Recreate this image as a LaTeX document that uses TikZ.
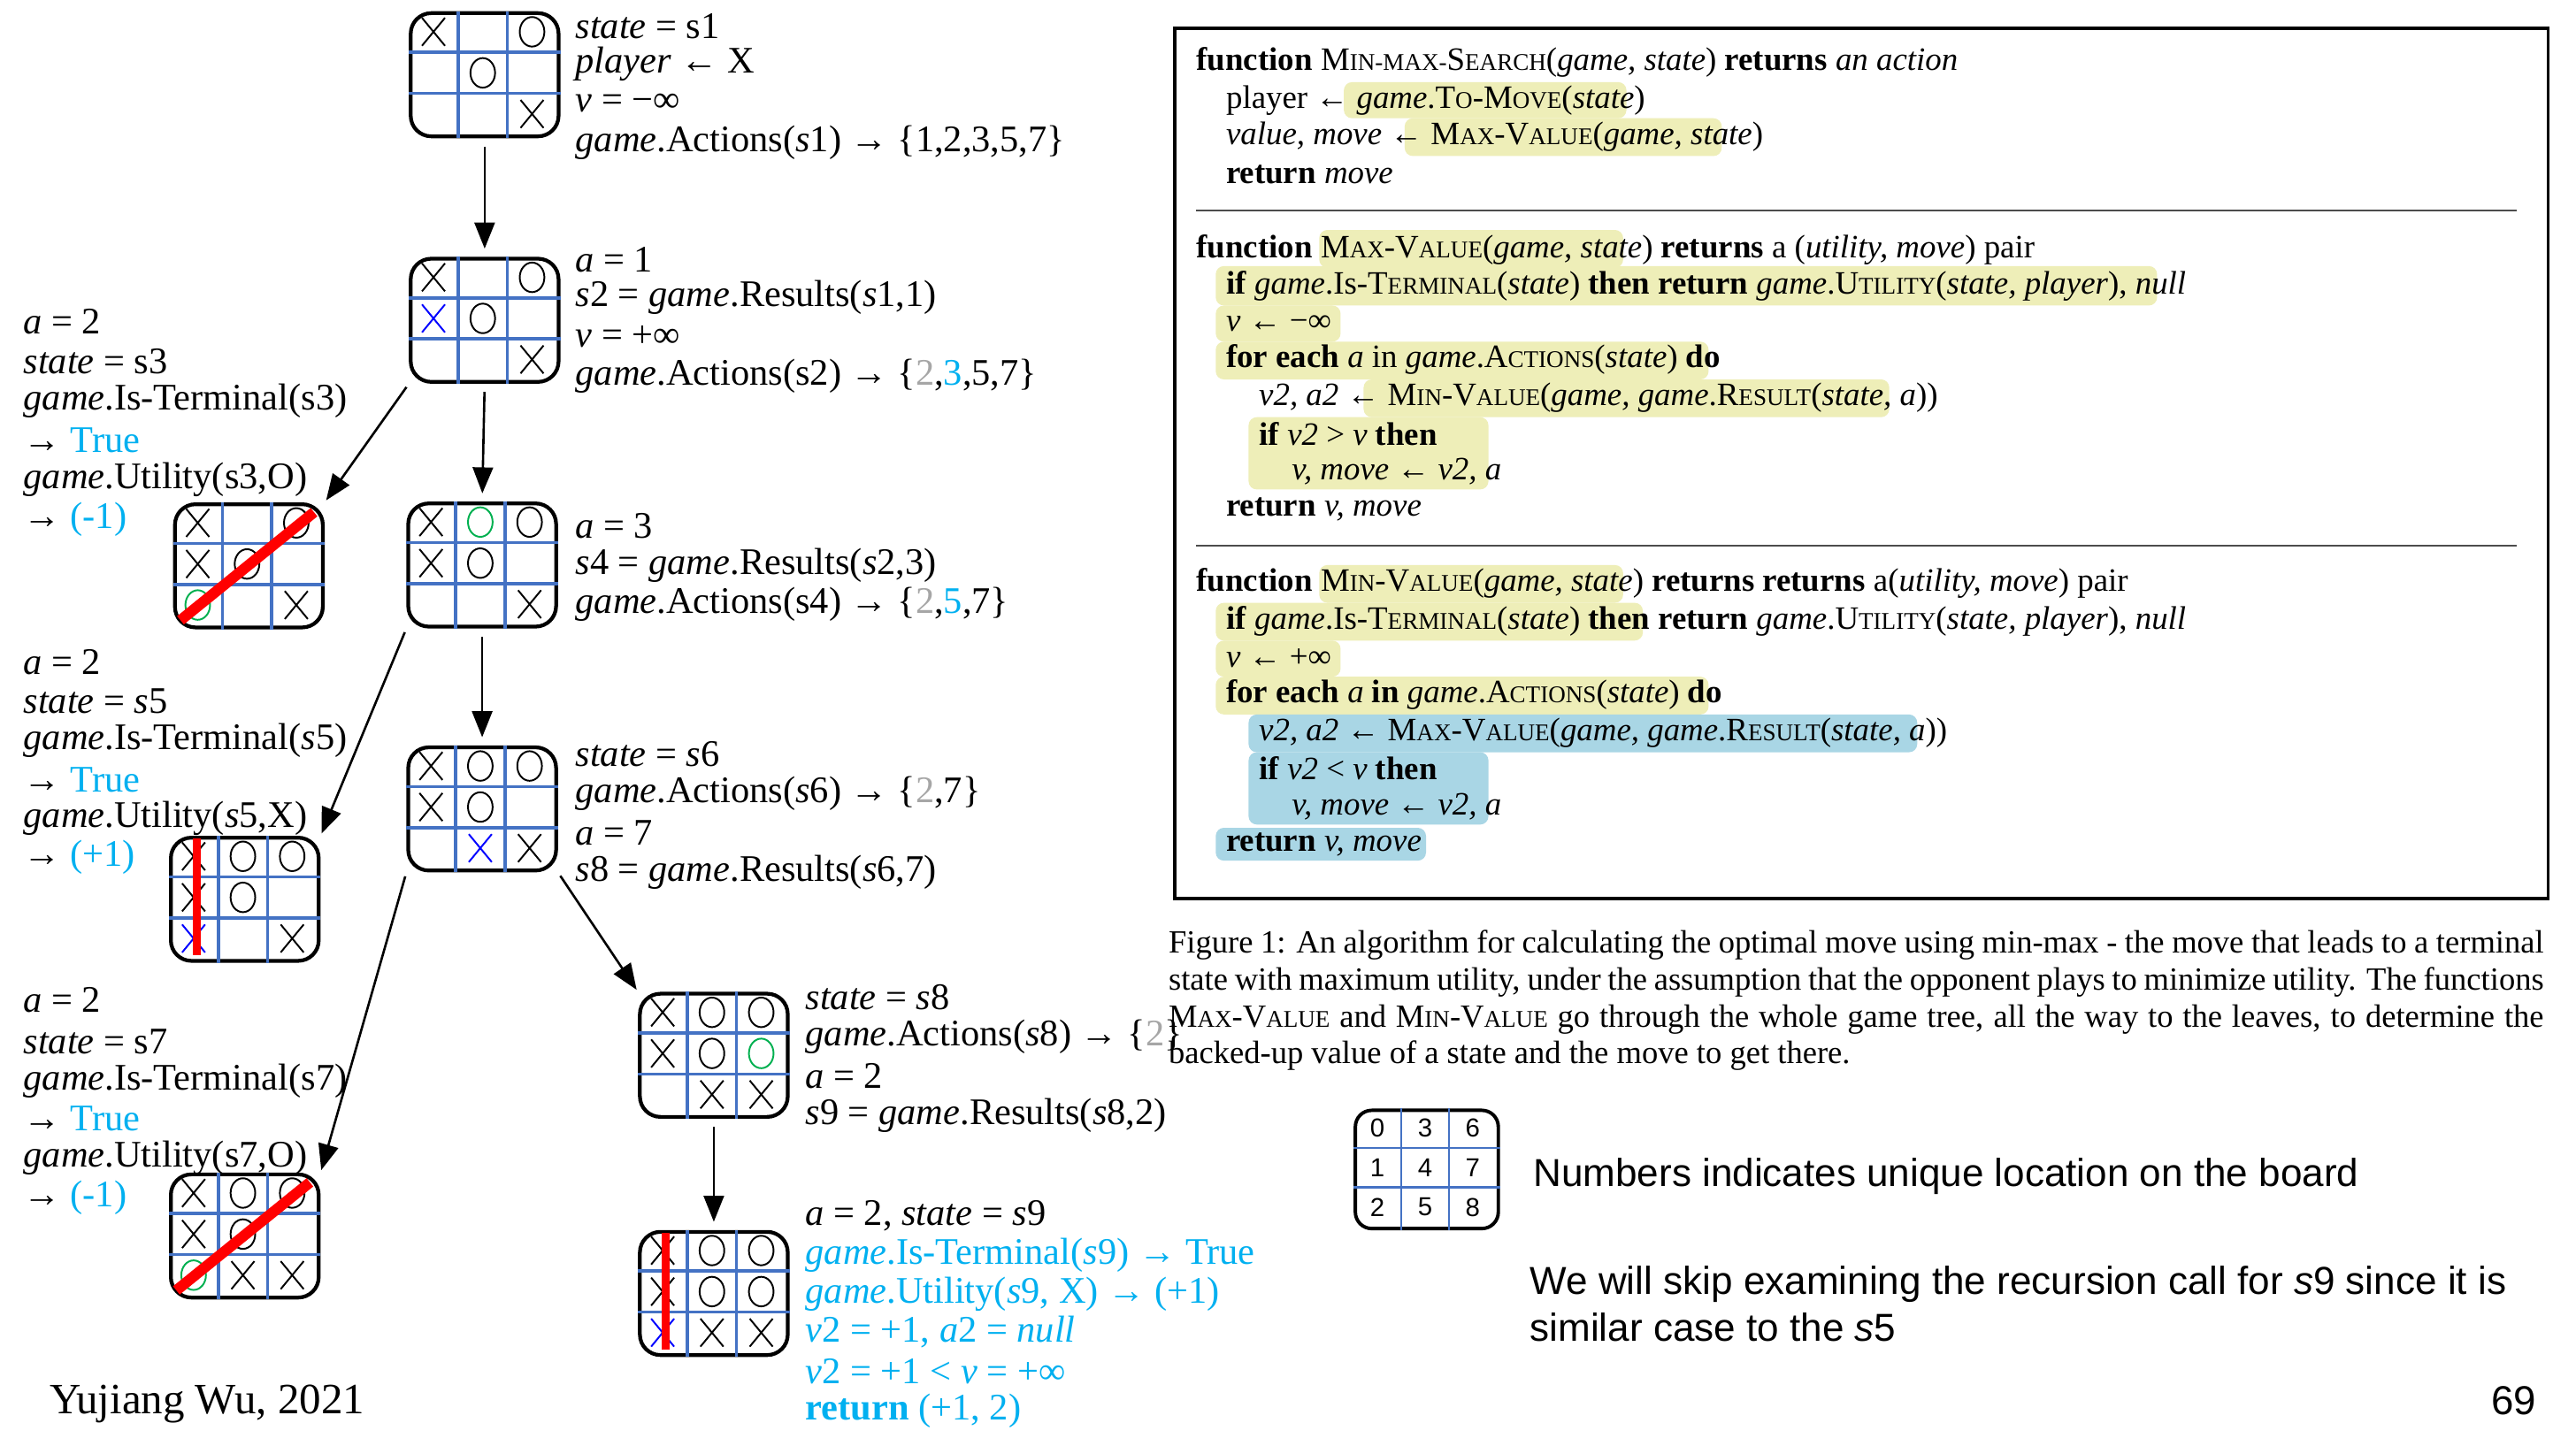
\documentclass[tikz,border=0pt]{standalone}
\usepackage{fontspec}
\setmainfont{Liberation Serif}
\newfontfamily\ars{Liberation Sans}
\usetikzlibrary{calc,arrows.meta}
\definecolor{cy}{HTML}{00B0F0}
\definecolor{gy}{HTML}{A6A6A6}
\definecolor{gl}{HTML}{4472C4}
\definecolor{gn}{HTML}{00B050}
\definecolor{bx}{HTML}{0000FF}
\definecolor{rd}{HTML}{FF0000}
\definecolor{hy}{HTML}{EEEEB8}
\definecolor{hb}{HTML}{A9D6E5}
\newcommand\g{\textit{game}}
\newcommand\Sm[1]{{\fontsize{8.3}{8.3}\selectfont #1}}
\tikzset{
 bd/.style={draw=black,line width=1.3pt,rounded corners=2.5mm,minimum width=18mm,minimum height=15mm,inner sep=0},
 gline/.style={gl,line width=1.1pt},
 mk/.style={line width=0.6pt},
 arr/.style={-{Triangle[length=9pt,width=7pt]},line width=0.8pt,shorten <=1mm,shorten >=1mm},
 txt/.style={anchor=west,inner sep=0,font=\fontsize{13}{13}\selectfont},
 alg/.style={anchor=west,inner sep=0,font=\fontsize{11.3}{11.3}\selectfont},
 hl/.style={fill=hy,rounded corners=1mm},
 hlb/.style={fill=hb,rounded corners=1mm},
 redl/.style={rd,line width=1.3mm}
}
\newcommand\board[3]{%
 \node[bd] (#1) at (#2,#3) {};
 \draw[gline] ([xshift=6mm]#1.north west) -- ([xshift=6mm]#1.south west);
 \draw[gline] ([xshift=12mm]#1.north west) -- ([xshift=12mm]#1.south west);
 \draw[gline] ([yshift=-5mm]#1.north west) -- ([yshift=-5mm]#1.north east);
 \draw[gline] ([yshift=-10mm]#1.north west) -- ([yshift=-10mm]#1.north east);
}
\newcommand\cellc[3]{\path (#1.north west) ++({(#2+0.5)*6mm},{-(#3+0.5)*5mm}) coordinate (tmp);}
\newcommand\X[4]{\cellc{#1}{#2}{#3}\draw[mk,#4] ([shift={(-1.4mm,1.7mm)}]tmp) -- ([shift={(1.4mm,-1.7mm)}]tmp) ([shift={(-1.4mm,-1.7mm)}]tmp) -- ([shift={(1.4mm,1.7mm)}]tmp);}
\newcommand\OO[4]{\cellc{#1}{#2}{#3}\draw[mk,#4] (tmp) ellipse [x radius=1.5mm, y radius=1.8mm];}
\newcommand\diagred[1]{\draw[redl] ($(#1.south west)+(0.9mm,1.1mm)$) -- ($(#1.north east)+(-1.3mm,-1.2mm)$);}
\newcommand\vertred[1]{\draw[redl,line width=1mm] ($(#1.north west)+(3.4mm,-0.3mm)$) -- ($(#1.south west)+(3.4mm,0.9mm)$);}
\begin{document}
\begin{tikzpicture}[x=0.2mm,y=-0.2mm]
\useasboundingbox (0,0) rectangle (1568,880);
\fill[white] (0,0) rectangle (1568,880);
% boards
\board{s1}{295}{45.5}
\X{s1}{0}{0}{black}\OO{s1}{2}{0}{black}\OO{s1}{1}{1}{black}\X{s1}{2}{2}{black}
\board{s2}{295}{195}
\X{s2}{0}{0}{black}\OO{s2}{2}{0}{black}\X{s2}{0}{1}{bx}\OO{s2}{1}{1}{black}\X{s2}{2}{2}{black}
\board{s3}{151.5}{344.5}
\X{s3}{0}{0}{black}\OO{s3}{2}{0}{black}\X{s3}{0}{1}{black}\OO{s3}{1}{1}{black}\OO{s3}{0}{2}{gn}\X{s3}{2}{2}{black}
\diagred{s3}
\board{s4}{293.5}{344}
\X{s4}{0}{0}{black}\OO{s4}{1}{0}{gn}\OO{s4}{2}{0}{black}\X{s4}{0}{1}{black}\OO{s4}{1}{1}{black}\X{s4}{2}{2}{black}
\board{s5}{149}{547.5}
\X{s5}{0}{0}{black}\OO{s5}{1}{0}{black}\OO{s5}{2}{0}{black}\X{s5}{0}{1}{black}\OO{s5}{1}{1}{black}\X{s5}{0}{2}{bx}\X{s5}{2}{2}{black}
\vertred{s5}
\board{s6}{293.5}{492.5}
\X{s6}{0}{0}{black}\OO{s6}{1}{0}{black}\OO{s6}{2}{0}{black}\X{s6}{0}{1}{black}\OO{s6}{1}{1}{black}\X{s6}{1}{2}{bx}\X{s6}{2}{2}{black}
\board{s7}{149}{752.5}
\X{s7}{0}{0}{black}\OO{s7}{1}{0}{black}\OO{s7}{2}{0}{black}\X{s7}{0}{1}{black}\OO{s7}{1}{1}{black}\OO{s7}{0}{2}{gn}\X{s7}{1}{2}{black}\X{s7}{2}{2}{black}
\diagred{s7}
\board{s8}{434.5}{642.5}
\X{s8}{0}{0}{black}\OO{s8}{1}{0}{black}\OO{s8}{2}{0}{black}\X{s8}{0}{1}{black}\OO{s8}{1}{1}{black}\OO{s8}{2}{1}{gn}\X{s8}{1}{2}{black}\X{s8}{2}{2}{black}
\board{s9}{434.5}{787.5}
\X{s9}{0}{0}{black}\OO{s9}{1}{0}{black}\OO{s9}{2}{0}{black}\X{s9}{0}{1}{black}\OO{s9}{1}{1}{black}\OO{s9}{2}{1}{black}\X{s9}{0}{2}{bx}\X{s9}{1}{2}{black}\X{s9}{2}{2}{black}
\vertred{s9}
% arrows
\draw[arr] (s1.south) -- (s2.north);
\draw[arr] (s2.south) -- (s4.north);
\draw[arr] (s4.south) -- (s6.north);
\draw[arr] (s8.south) -- (s9.north);
\draw[arr,shorten <=0.5mm,shorten >=0.3mm] (s2.south west) -- (s3.north east);
\draw[arr,shorten <=0.5mm,shorten >=0.3mm] (s4.south west) -- (s5.north east);
\draw[arr,shorten <=0.5mm,shorten >=0.3mm] (s6.south west) -- (s7.north east);
\draw[arr,shorten <=0.5mm,shorten >=0.3mm] (s6.south east) -- (s8.north west);
% texts
\node[txt] (t1a) at (350,16) {\textit{state} = s1};
\node[txt] (t1b) at (350,39) {\textit{player} ← X};
\node[txt] (t1c) at (350,63) {\textit{v} = −∞};
\node[txt] (t1d) at (350,87) {\g.Actions(\textit{s}1) → \{1,2,3,5,7\}};
\node[txt] (t2a) at (350,158) {\textit{a} = 1};
\node[txt] (t2b) at (350,181) {\textit{s}2 = \g.Results(\textit{s}1,1)};
\node[txt] (t2c) at (350,205) {\textit{v} = +∞};
\node[txt] (t2d) at (350,229) {\g.Actions(s2) → \{\textcolor{gy}{2},\textcolor{cy}{3},5,7\}};
\node[txt] (l1a) at (14,196) {\textit{a} = 2};
\node[txt] (l1b) at (14,220) {\textit{state} = s3};
\node[txt] (l1c) at (14,244) {\g.Is-Terminal(s3)};
\node[txt] (l1d) at (14,268) {→ \textcolor{cy}{True}};
\node[txt] (l1e) at (14,292) {\g.Utility(s3,O)};
\node[txt] (l1f) at (14,316) {→ \textcolor{cy}{(-1)}};
\node[txt] (t4a) at (350,320) {\textit{a} = 3};
\node[txt] (t4b) at (350,344) {\textit{s}4 = \g.Results(\textit{s}2,3)};
\node[txt] (t4c) at (350,368) {\g.Actions(s4) → \{\textcolor{gy}{2},\textcolor{cy}{5},7\}};
\node[txt] (l2a) at (14,403) {\textit{a} = 2};
\node[txt] (l2b) at (14,427) {\textit{state} = \textit{s}5};
\node[txt] (l2c) at (14,451) {\g.Is-Terminal(\textit{s}5)};
\node[txt] (l2d) at (14,475) {→ \textcolor{cy}{True}};
\node[txt] (l2e) at (14,498) {\g.Utility(\textit{s}5,X)};
\node[txt] (l2f) at (14,522) {→ \textcolor{cy}{(+1)}};
\node[txt] (t6a) at (350,459) {\textit{state} = \textit{s}6};
\node[txt] (t6b) at (350,483) {\g.Actions(\textit{s}6) → \{\textcolor{gy}{2},7\}};
\node[txt] (t6c) at (350,507) {\textit{a} = 7};
\node[txt] (t6d) at (350,531) {\textit{s}8 = \g.Results(\textit{s}6,7)};
\node[txt] (l3a) at (14,609) {\textit{a} = 2};
\node[txt] (l3b) at (14,634) {\textit{state} = s7};
\node[txt] (l3c) at (14,658) {\g.Is-Terminal(s7)};
\node[txt] (l3d) at (14,681) {→ \textcolor{cy}{True}};
\node[txt] (l3e) at (14,705) {\g.Utility(s7,O)};
\node[txt] (l3f) at (14,729) {→ \textcolor{cy}{(-1)}};
\node[txt] (t8a) at (490,607) {\textit{state} = \textit{s}8};
\node[txt] (t8b) at (490,631) {\g.Actions(\textit{s}8) → \{\textcolor{gy}{2}\}};
\node[txt] (t8c) at (490,655) {\textit{a} = 2};
\node[txt] (t8d) at (490,679) {\textit{s}9 = \g.Results(\textit{s}8,2)};
\node[txt] (t9a) at (490,740) {\textit{a} = 2, \textit{state} = \textit{s}9};
\node[txt,text=cy] (t9b) at (490,764) {\g.Is-Terminal(\textit{s}9) → True};
\node[txt,text=cy] (t9c) at (490,788) {\g.Utility(\textit{s}9, X) → (+1)};
\node[txt,text=cy] (t9d) at (490,811) {\textit{v}2 = +1, \textit{a}2 = \textit{null}};
\node[txt,text=cy] (t9e) at (490,835) {\textit{v}2 = +1 < \textit{v} = +∞};
\node[txt,text=cy] (t9f) at (490,859) {\textbf{return} (+1, 2)};
\node[txt,font=\fontsize{15}{15}\selectfont] (auth) at (30,855) {Yujiang Wu, 2021};
\node[txt,font=\ars\fontsize{14}{14}\selectfont] (pg) at (1516,853) {69};
% algorithm box
\draw[line width=1.2pt] (715,17) rectangle (1551,547);
\draw[line width=0.6pt,black!70] (728,128) -- (1532,128);
\draw[line width=0.6pt,black!70] (728,332) -- (1532,332);
\fill[hl] (818,50) rectangle (990,72);
\fill[hl] (855,72) rectangle (1048,95);
\fill[hl] (803,140) rectangle (988,163);
\fill[hl] (740,162) rectangle (1313,186);
\fill[hl] (740,186) rectangle (816,208);
\fill[hl] (740,208) rectangle (1040,231);
\fill[hl] (830,231) rectangle (1150,254);
\fill[hl] (760,254) rectangle (906,298);
\fill[hl] (803,344) rectangle (988,367);
\fill[hl] (740,367) rectangle (1000,390);
\fill[hl] (740,390) rectangle (816,412);
\fill[hl] (740,412) rectangle (1040,435);
\fill[hlb] (760,435) rectangle (1167,458);
\fill[hlb] (760,458) rectangle (906,502);
\fill[hlb] (740,504) rectangle (868,524);
\node[alg] (a1) at (728,38) {\textbf{function} M\Sm{IN-MAX-}S\Sm{EARCH}(\textit{game, state}) \textbf{returns} \textit{an action}};
\node[alg] (a2) at (746,61) {player ← \textit{game}.T\Sm{O}-M\Sm{OVE}(\textit{state})};
\node[alg] (a3) at (746,83) {\textit{value, move} ← M\Sm{AX}-V\Sm{ALUE}(\textit{game, state})};
\node[alg] (a4) at (746,106) {\textbf{return} \textit{move}};
\node[alg] (b1) at (728,152) {\textbf{function} M\Sm{AX}-V\Sm{ALUE}(\textit{game, state}) \textbf{returns} a (\textit{utility, move}) pair};
\node[alg] (b2) at (746,174) {\textbf{if} \textit{game}.Is-T\Sm{ERMINAL}(\textit{state}) \textbf{then return} \textit{game}.U\Sm{TILITY}(\textit{state, player}), \textit{null}};
\node[alg] (b3) at (746,197) {\textit{v} ← −∞};
\node[alg] (b4) at (746,219) {\textbf{for each} \textit{a} in \textit{game}.A\Sm{CTIONS}(\textit{state}) \textbf{do}};
\node[alg] (b5) at (766,242) {\textit{v2, a2} ← M\Sm{IN}-V\Sm{ALUE}(\textit{game, game}.R\Sm{ESULT}(\textit{state, a}))};
\node[alg] (b6) at (766,264) {\textbf{if} \textit{v2} > \textit{v} \textbf{then}};
\node[alg] (b7) at (786,287) {\textit{v, move} ← \textit{v2, a}};
\node[alg] (b8) at (746,310) {\textbf{return} \textit{v, move}};
\node[alg] (c1) at (728,355) {\textbf{function} M\Sm{IN}-V\Sm{ALUE}(\textit{game, state}) \textbf{returns returns} a(\textit{utility, move}) pair};
\node[alg] (c2) at (746,378) {\textbf{if} \textit{game}.Is-T\Sm{ERMINAL}(\textit{state}) \textbf{then return} \textit{game}.U\Sm{TILITY}(\textit{state, player}), \textit{null}};
\node[alg] (c3) at (746,401) {\textit{v} ← +∞};
\node[alg] (c4) at (746,423) {\textbf{for each} \textit{a} \textbf{in} \textit{game}.A\Sm{CTIONS}(\textit{state}) \textbf{do}};
\node[alg] (c5) at (766,446) {\textit{v2, a2} ← M\Sm{AX}-V\Sm{ALUE}(\textit{game, game}.R\Sm{ESULT}(\textit{state, a}))};
\node[alg] (c6) at (766,468) {\textbf{if} \textit{v2} < \textit{v} \textbf{then}};
\node[alg] (c7) at (786,491) {\textit{v, move} ← \textit{v2, a}};
\node[alg] (c8) at (746,514) {\textbf{return} \textit{v, move}};
% caption
\node[anchor=north west,inner sep=0,text width=167.4mm,align=justify,font=\fontsize{11.2}{12.8}\selectfont] (cap) at (711,566) {\hyphenpenalty=10000\relax Figure 1: An algorithm for calculating the optimal move using min-max - the move that leads to a terminal\linebreak state with maximum utility, under the assumption that the opponent plays to minimize utility. The functions\linebreak M\Sm{AX}-V\Sm{ALUE} and M\Sm{IN}-V\Sm{ALUE} go through the whole game tree, all the way to the leaves, to determine the\linebreak backed-up value of a state and the move to get there.};
% location board
\node[draw=black,line width=1.2pt,rounded corners=2mm,minimum width=17.4mm,minimum height=14.4mm,inner sep=0] (lb) at (868.5,712) {};
\foreach \i in {1,2}{
 \draw[gline,line width=0.8pt] ([xshift=\i*5.8mm]lb.north west) -- ([xshift=\i*5.8mm]lb.south west);
 \draw[gline,line width=0.8pt] ([yshift=-\i*4.8mm]lb.north west) -- ([yshift=-\i*4.8mm]lb.north east);}
\foreach \c in {0,1,2}{\foreach \r in {0,1,2}{
 \pgfmathtruncatemacro\n{\c*3+\r}
 \node[font=\ars\fontsize{9}{9}\selectfont,inner sep=0] at ($(lb.north west)+({(\c+0.5)*5.8mm},{-(\r+0.5)*4.8mm})$) {\n};}}
\node[txt,font=\ars\fontsize{13.5}{13.5}\selectfont] (nt) at (933,716) {Numbers indicates unique location on the board};
\node[txt,font=\ars\fontsize{13.5}{13.5}\selectfont] (sk1) at (931,782) {We will skip examining the recursion call for \textit{s}9 since it is};
\node[txt,font=\ars\fontsize{13.5}{13.5}\selectfont] (sk2) at (931,808) {similar case to the \textit{s}5};
\end{tikzpicture}
\end{document}
